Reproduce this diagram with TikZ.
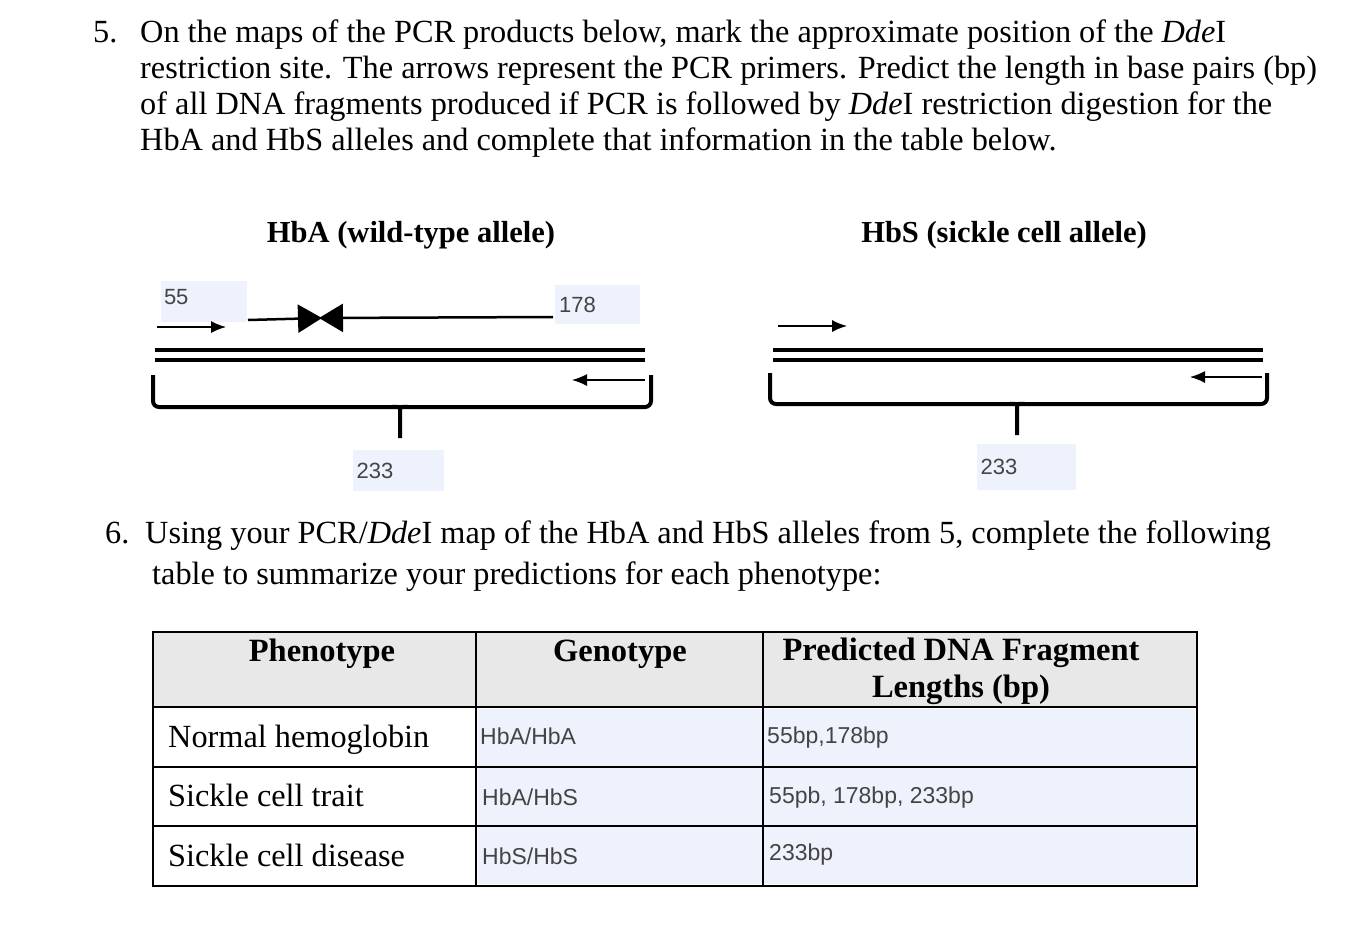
\documentclass[tikz,border=0pt]{standalone}
\usepackage{fontspec}
\setmainfont{Liberation Serif}
\newfontfamily\annot{Liberation Sans}
\usetikzlibrary{arrows.meta}
\definecolor{boxblue}{HTML}{EEF2FD}
\definecolor{annotgray}{HTML}{444444}
\definecolor{hdrgray}{HTML}{E8E8E8}
\begin{document}
\begin{tikzpicture}[x=1pt,y=-1pt,
  txt/.style={anchor=base west,inner sep=0,font=\fontsize{32.3}{36}\selectfont},
  hdr/.style={inner sep=0,font=\fontsize{30.5}{37}\selectfont\bfseries},
  thdr/.style={inner sep=0,font=\fontsize{32.5}{37}\selectfont\bfseries},
  lbl/.style={fill=boxblue,inner sep=0,font=\fontsize{22}{24}\selectfont\annot,text=annotgray},
  cell/.style={anchor=west,inner sep=0,font=\fontsize{23}{24}\selectfont\annot,text=annotgray},
  dna/.style={line width=4.5pt},
  brk/.style={line width=4pt,rounded corners=6pt},
  thin/.style={line width=1.3pt,-{Latex[length=15pt,width=12pt]}}]
\useasboundingbox (0,0) rectangle (1356,946);
% paragraph 5
\node[txt] (n5) at (93,42) {5.};
\node[txt] (p1) at (140,42) {On the maps of the PCR products below, mark the approximate position of the \textit{Dde}I};
\node[txt] (p2) at (140,78) {restriction site. The arrows represent the PCR primers. Predict the length in base pairs (bp)};
\node[txt] (p3) at (140,114) {of all DNA fragments produced if PCR is followed by \textit{Dde}I restriction digestion for the};
\node[txt] (p4) at (140,150) {HbA and HbS alleles and complete that information in the table below.};
% headings
\node[hdr] (ha) at (411,235) {HbA (wild-type allele)};
\node[hdr] (hs) at (1004,235) {HbS (sickle cell allele)};
% left map
\node[lbl,minimum width=86pt,minimum height=41pt,text width=80pt,align=left] (l55) at (204,301.5) {\raisebox{10pt}{55}};
\node[lbl,minimum width=85pt,minimum height=39pt] (l178) at (597.5,304.5) {\hspace*{-40pt}178};
\node[lbl,minimum width=91pt,minimum height=41pt] (l233a) at (398.5,470.5) {\hspace*{-47pt}233};
\coordinate (a1s) at (157,327); \coordinate (a1e) at (226,327);
\draw[thin] (a1s) -- (a1e);
\coordinate (t1s) at (248,320); \coordinate (t1e) at (322,318);
\coordinate (t2s) at (553,317); \coordinate (t2e) at (319,318);
\draw[line width=2.5pt,-{Triangle[length=24pt,width=28pt]}] (t1s) -- (t1e);
\draw[line width=2.5pt,-{Triangle[length=24pt,width=28pt]}] (t2s) -- (t2e);
\coordinate (d1a) at (155,350); \coordinate (d1b) at (645,350);
\coordinate (d2a) at (155,360); \coordinate (d2b) at (645,360);
\draw[dna] (d1a) -- (d1b); \draw[dna] (d2a) -- (d2b);
\coordinate (r1s) at (645,380); \coordinate (r1e) at (572,380);
\draw[thin] (r1s) -- (r1e);
\coordinate (b1l) at (153,375); \coordinate (b1r) at (651,375);
\draw[brk] (b1l) -- (153,407) -- (651,407) -- (b1r);
\coordinate (c1a) at (400,409); \coordinate (c1b) at (400,438);
\draw[line width=4pt] (c1b) -- (c1a) to[out=90,in=0] (392,407);
\draw[line width=4pt] (c1a) to[out=90,in=180] (408,407);
% right map
\coordinate (a2s) at (778,326); \coordinate (a2e) at (847,326);
\draw[thin] (a2s) -- (a2e);
\coordinate (d3a) at (773,350); \coordinate (d3b) at (1263,350);
\coordinate (d4a) at (773,360); \coordinate (d4b) at (1263,360);
\draw[dna] (d3a) -- (d3b); \draw[dna] (d4a) -- (d4b);
\coordinate (r2s) at (1262,377); \coordinate (r2e) at (1190,377);
\draw[thin] (r2s) -- (r2e);
\coordinate (b2l) at (770,373); \coordinate (b2r) at (1267,373);
\draw[brk] (b2l) -- (770,404) -- (1267,404) -- (b2r);
\coordinate (c2a) at (1017,406); \coordinate (c2b) at (1017,435);
\draw[line width=4pt] (c2b) -- (c2a) to[out=90,in=0] (1009,404);
\draw[line width=4pt] (c2a) to[out=90,in=180] (1025,404);
\node[lbl,minimum width=99pt,minimum height=46pt] (l233b) at (1026.5,467) {\hspace*{-55pt}233};
% paragraph 6
\node[txt] (n6) at (105,543) {6.};
\node[txt] (q1) at (145,543) {Using your PCR/\textit{Dde}I map of the HbA and HbS alleles from 5, complete the following};
\node[txt] (q2) at (152,584) {table to summarize your predictions for each phenotype:};
% table
\fill[hdrgray] (153,632) rectangle (1197,707);
\fill[boxblue] (478,709) rectangle (1195,884);
\fill[white] (153,709) rectangle (476,886);
\draw[line width=1.6pt] (153,632) rectangle (1197,886);
\foreach \y in {707,767,826} \draw[line width=1.6pt] (153,\y) -- (1197,\y);
\foreach \x in {476,763} \draw[line width=1.6pt] (\x,632) -- (\x,886);
\node[thdr] (th1) at (322,654) {Phenotype};
\node[thdr] (th2) at (620,654) {Genotype};
\node[thdr,align=center] (th3) at (961,671) {Predicted DNA Fragment\\Lengths (bp)};
\node[txt] (b1) at (168,747) {Normal hemoglobin};
\node[txt] (b2) at (168,806) {Sickle cell trait};
\node[txt] (b3) at (168,866) {Sickle cell disease};
\node[cell] (g1) at (480,736) {HbA/HbA};
\node[cell] (g2) at (482,797) {HbA/HbS};
\node[cell] (g3) at (482,856) {HbS/HbS};
\node[cell] (f1) at (767,738) {55bp,178bp};
\node[cell] (f2) at (769,798) {55pb, 178bp, 233bp};
\node[cell] (f3) at (769,855) {233bp};
\end{tikzpicture}
\end{document}
